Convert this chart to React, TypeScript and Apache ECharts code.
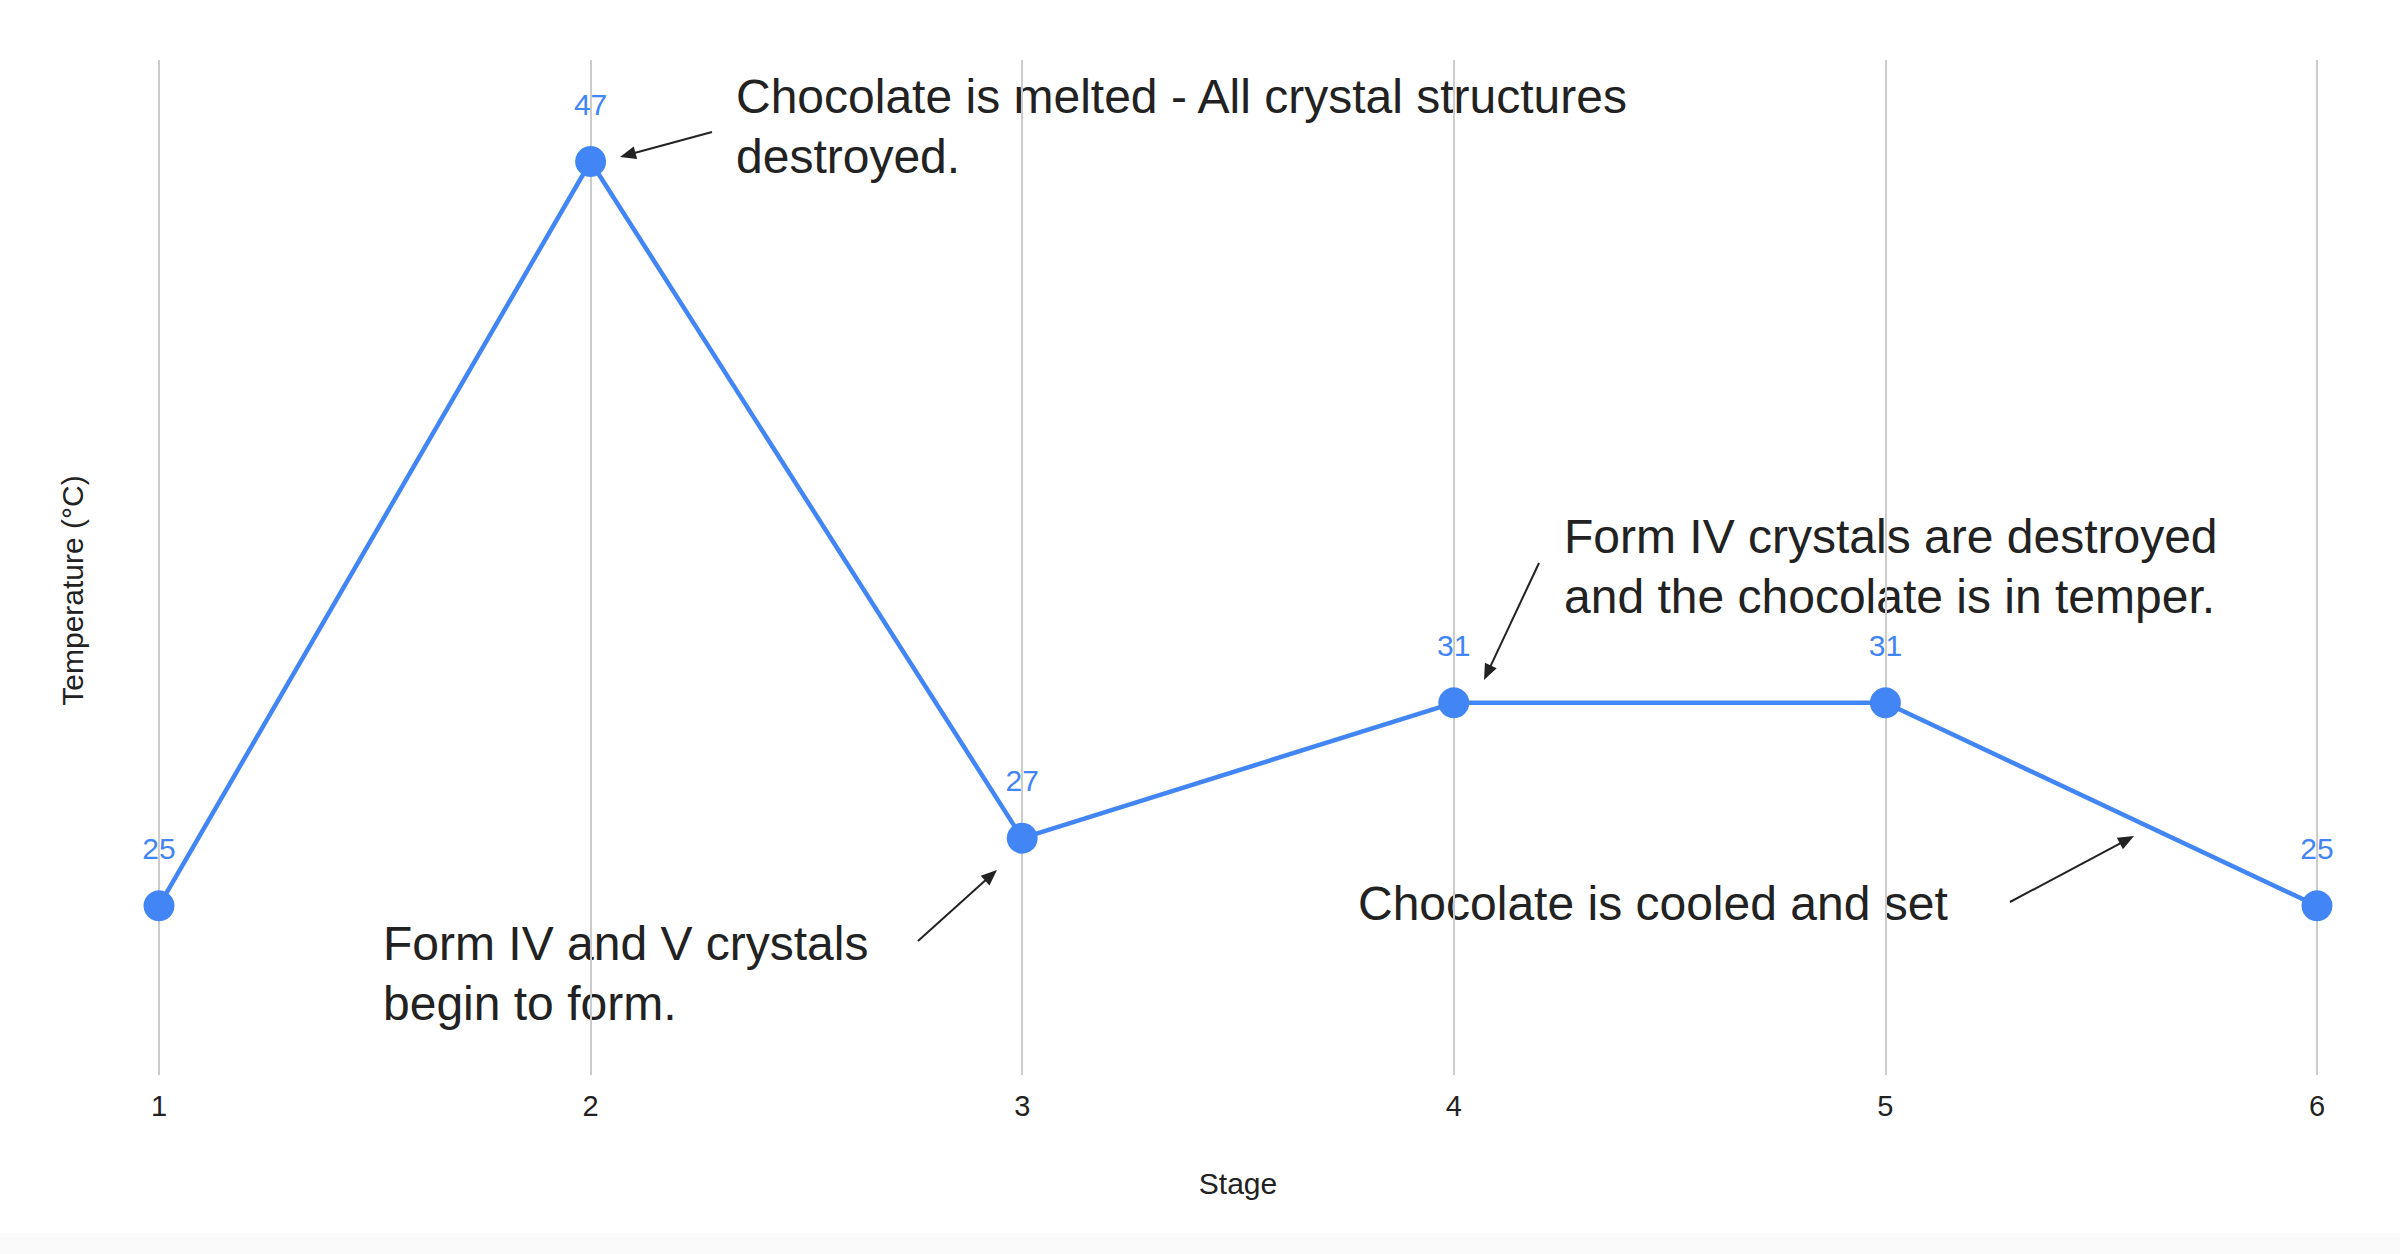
import React, { useEffect, useRef } from "react";
import * as echarts from "echarts";

const stages = ["1", "2", "3", "4", "5", "6"];
const temperatures = [25, 47, 27, 31, 31, 25];
const xAxisName = "Stage";
const yAxisName = "Temperature (°C)";
const annotationTexts = [
  "Chocolate is melted - All crystal structures\ndestroyed.",
  "Form IV and V crystals\nbegin to form.",
  "Form IV crystals are destroyed\nand the chocolate is in temper.",
  "Chocolate is cooled and set",
];

// layout of annotations (pixel positions): text top-left, arrow tail -> head
const annotationLayout = [
  { x: 736, y: 66, arrow: [712, 132, 620, 157] },
  { x: 383, y: 913, arrow: [918, 941, 997, 870] },
  { x: 1564, y: 506, arrow: [1539, 563, 1484, 680] },
  { x: 1358, y: 873, arrow: [2010, 902, 2134, 836] },
];

const FONT = '"Liberation Sans", Arial, Helvetica, sans-serif';
const BLUE = "#4285F4";
const INK = "#222222";

function arrowGraphics(x1: number, y1: number, x2: number, y2: number) {
  const dx = x2 - x1;
  const dy = y2 - y1;
  const len = Math.hypot(dx, dy);
  const ux = dx / len;
  const uy = dy / len;
  const hl = 16;
  const hw = 6.5;
  const bx = x2 - ux * hl;
  const by = y2 - uy * hl;
  const px = -uy;
  const py = ux;
  return [
    {
      type: "line",
      shape: { x1, y1, x2: bx + ux * 2, y2: by + uy * 2 },
      style: { stroke: INK, lineWidth: 2 },
    },
    {
      type: "polygon",
      shape: {
        points: [
          [x2, y2],
          [bx + px * hw, by + py * hw],
          [bx - px * hw, by - py * hw],
        ],
      },
      style: { fill: INK },
    },
  ];
}

export default function App() {
  const ref = useRef<HTMLDivElement>(null);

  useEffect(() => {
    if (!ref.current) return;
    const chart = echarts.init(ref.current, undefined, { renderer: "svg" });

    const graphics: any[] = [
      {
        type: "rect",
        shape: { x: 0, y: 1233, width: 2400, height: 21 },
        style: { fill: "#fafafa" },
        z: -1,
      },
    ];
    annotationTexts.forEach((t, i) => {
      const l = annotationLayout[i];
      graphics.push({
        type: "text",
        x: l.x,
        y: l.y,
        style: {
          text: t,
          font: `48px ${FONT}`,
          lineHeight: 60,
          fill: INK,
          align: "left",
          verticalAlign: "top",
        },
      });
      const [ax1, ay1, ax2, ay2] = l.arrow;
      graphics.push(...arrowGraphics(ax1, ay1, ax2, ay2));
    });

    chart.setOption({
      animation: false,
      backgroundColor: "#ffffff",
      grid: { left: 159, right: 83, top: 60, bottom: 179 },
      xAxis: {
        type: "category",
        data: stages,
        boundaryGap: false,
        name: xAxisName,
        nameLocation: "middle",
        nameGap: 93,
        nameTextStyle: { fontSize: 30, color: INK, fontFamily: FONT },
        axisLine: { show: false },
        axisTick: { show: false },
        axisLabel: { fontSize: 29, color: INK, fontFamily: FONT, margin: 16 },
        splitLine: { show: true, lineStyle: { color: "#cccccc", width: 2 } },
      },
      yAxis: {
        type: "value",
        min: 20,
        max: 50,
        name: yAxisName,
        nameLocation: "middle",
        nameRotate: 90,
        nameGap: 72,
        nameTextStyle: {
          fontSize: 30,
          color: INK,
          fontFamily: FONT,
          padding: [0, 46, 0, 0],
        },
        axisLine: { show: false },
        axisTick: { show: false },
        axisLabel: { show: false },
        splitLine: { show: false },
      },
      series: [
        {
          type: "line",
          data: temperatures,
          color: BLUE,
          lineStyle: { color: BLUE, width: 4.5 },
          itemStyle: { color: BLUE },
          symbol: "circle",
          symbolSize: 31,
          label: {
            show: true,
            position: "top",
            distance: 27,
            color: BLUE,
            fontSize: 30,
            fontFamily: FONT,
          },
        },
      ],
      graphic: graphics,
    });

    return () => chart.dispose();
  }, []);

  return (
    <div
      ref={ref}
      style={{ position: "absolute", left: 0, top: 0, width: 2400, height: 1254 }}
    />
  );
}
